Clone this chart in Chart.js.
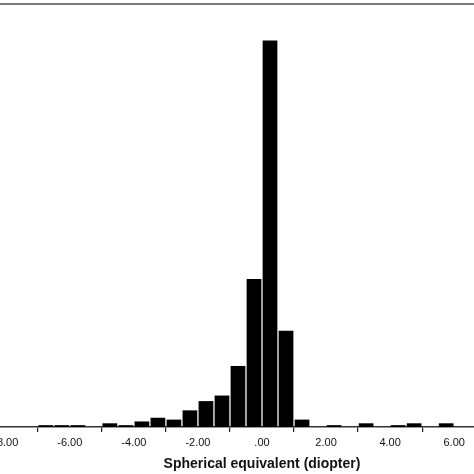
<!DOCTYPE html>
<html>
<head>
<meta charset="utf-8">
<script src="https://cdn.jsdelivr.net/npm/chart.js@4"></script>
<style>
  html, body { margin: 0; padding: 0; overflow: hidden; background: #fff; }
  #crop { width: 474px; height: 474px; overflow: hidden; position: relative; }
  #wrap { width: 524px; height: 474px; position: absolute; left: 0; top: 0; }
</style>
</head>
<body>
<div id="crop"><div id="wrap"><canvas id="hist"></canvas></div></div>
<script>
// histogram bins (centre of each 0.5 D bin) and counts
let binCenters = [-7.75, -7.25, -6.75, -6.25, -5.75, -5.25, -4.75, -4.25,
                  -3.75, -3.25, -2.75, -2.25, -1.75, -1.25, -0.75, -0.25,
                   0.25,  0.75,  1.25,  1.75,  2.25,  2.75,  3.25,  3.75,
                   4.25,  4.75,  5.25,  5.75,  6.25,  6.75,  7.25,  7.75];
let counts     = [0, 0, 1, 1, 1, 0, 2, 1,
                  3, 5, 4, 9, 14, 17, 33, 80,
                  209, 52, 4, 0, 1, 0, 2, 0,
                  1, 2, 0, 2, 0, 0, 0, 0];
let tickValues = [-8, -6, -4, -2, 0, 2, 4, 6];
let xTitle = 'Spherical equivalent (diopter)';

Chart.defaults.font.family = 'Arial, "Liberation Sans", sans-serif';
Chart.defaults.color = '#111';

let points = binCenters.map((c, i) => ({x: c, y: counts[i]}));

new Chart(document.getElementById('hist'), {
  type: 'bar',
  data: {
    datasets: [{
      data: points,
      backgroundColor: '#000',
      borderWidth: 0,
      barPercentage: 0.92,
      categoryPercentage: 1
    }]
  },
  options: {
    responsive: true,
    maintainAspectRatio: false,
    animation: false,
    layout: { padding: { top: 4, left: 0, right: 0, bottom: 0 } },
    plugins: { legend: { display: false }, tooltip: { enabled: false } },
    scales: {
      x: {
        type: 'linear',
        position: 'bottom',
        offset: false,
        min: -8.18,
        max: 8.18,
        afterBuildTicks: (s) => { s.ticks = tickValues.map(v => ({value: v})); },
        afterFit: (s) => { s.paddingLeft = 0; s.paddingRight = 0; },
        ticks: {
          font: { size: 11 },
          color: '#111',
          padding: 4,
          maxRotation: 0,
          autoSkip: false,
          callback: (v) => v === 0 ? '.00' : Number(v).toFixed(2)
        },
        grid: { drawOnChartArea: false, drawTicks: true, tickLength: 5, color: '#222', lineWidth: 1.2 },
        border: { display: true, color: '#333', width: 1.5 },
        title: {
          display: true,
          text: xTitle,
          font: { size: 14, weight: 'bold' },
          color: '#111',
          padding: { top: 3, bottom: 1 }
        }
      },
      x2: {
        type: 'linear',
        position: 'top',
        display: true,
        ticks: { display: false },
        grid: { display: false, drawTicks: false },
        border: { display: true, color: '#7a7a7a', width: 2 }
      },
      y: {
        display: false,
        min: 0,
        max: 228.7
      }
    }
  }
});
</script>
</body>
</html>
